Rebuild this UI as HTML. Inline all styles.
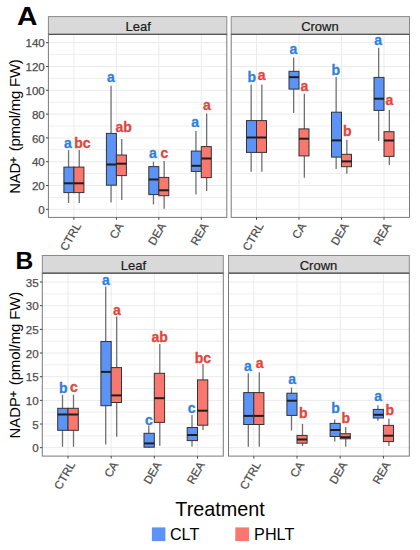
<!DOCTYPE html>
<html><head><meta charset="utf-8"><style>
html,body{margin:0;padding:0;background:#fff;}
svg{display:block;}
text{font-family:"Liberation Sans",sans-serif;}
.lab{font-size:14px;font-weight:bold;}
.strip{font-size:13px;fill:#1a1a1a;stroke:#1a1a1a;stroke-width:0.2px;}
.xt{font-size:11.5px;fill:#4d4d4d;stroke:#4d4d4d;stroke-width:0.25px;}
.yt{font-size:11.6px;fill:#4d4d4d;stroke:#4d4d4d;stroke-width:0.25px;}
.ttl{font-size:15px;fill:#000;}
.big{font-size:24px;font-weight:bold;fill:#000;}
</style></head><body>
<svg width="420" height="550" viewBox="0 0 420 550">
<rect width="420" height="550" fill="#fff"/>
<text class="big" transform="translate(17.0,24.8) scale(1.08,1)" style="font-size:26.2px">A</text>
<text class="big" x="15.4" y="269.4" style="font-size:24.6px">B</text>
<text class="ttl" transform="translate(20.2,193.8) rotate(-90)" textLength="31" lengthAdjust="spacingAndGlyphs">NAD</text>
<text class="ttl" style="font-size:11.4px;stroke:#000;stroke-width:0.35px" transform="translate(16.6,163.6) rotate(-90)">+</text>
<text class="ttl" transform="translate(20.2,151.3) rotate(-90)" textLength="92.1" lengthAdjust="spacing">(pmol/mg FW)</text>
<text class="ttl" transform="translate(20.2,438.4) rotate(-90)" textLength="41.2" lengthAdjust="spacingAndGlyphs">NADP</text>
<text class="ttl" style="font-size:11.4px;stroke:#000;stroke-width:0.35px" transform="translate(16.6,397.4) rotate(-90)">+</text>
<text class="ttl" transform="translate(20.2,385.2) rotate(-90)" textLength="93.5" lengthAdjust="spacing">(pmol/mg FW)</text>
<rect x="48.4" y="34.3" width="178.4" height="183.1" fill="#fff"/>
<line x1="48.4" x2="226.8" y1="197.4" y2="197.4" stroke="#eeeeee" stroke-width="1"/>
<line x1="48.4" x2="226.8" y1="173.6" y2="173.6" stroke="#eeeeee" stroke-width="1"/>
<line x1="48.4" x2="226.8" y1="149.8" y2="149.8" stroke="#eeeeee" stroke-width="1"/>
<line x1="48.4" x2="226.8" y1="126" y2="126" stroke="#eeeeee" stroke-width="1"/>
<line x1="48.4" x2="226.8" y1="102.2" y2="102.2" stroke="#eeeeee" stroke-width="1"/>
<line x1="48.4" x2="226.8" y1="78.4" y2="78.4" stroke="#eeeeee" stroke-width="1"/>
<line x1="48.4" x2="226.8" y1="54.6" y2="54.6" stroke="#eeeeee" stroke-width="1"/>
<line x1="48.4" x2="226.8" y1="209.3" y2="209.3" stroke="#ebebeb" stroke-width="1"/>
<line x1="48.4" x2="226.8" y1="185.5" y2="185.5" stroke="#ebebeb" stroke-width="1"/>
<line x1="48.4" x2="226.8" y1="161.7" y2="161.7" stroke="#ebebeb" stroke-width="1"/>
<line x1="48.4" x2="226.8" y1="137.9" y2="137.9" stroke="#ebebeb" stroke-width="1"/>
<line x1="48.4" x2="226.8" y1="114.1" y2="114.1" stroke="#ebebeb" stroke-width="1"/>
<line x1="48.4" x2="226.8" y1="90.3" y2="90.3" stroke="#ebebeb" stroke-width="1"/>
<line x1="48.4" x2="226.8" y1="66.5" y2="66.5" stroke="#ebebeb" stroke-width="1"/>
<line x1="48.4" x2="226.8" y1="42.7" y2="42.7" stroke="#ebebeb" stroke-width="1"/>
<line x1="73.9" x2="73.9" y1="34.3" y2="217.4" stroke="#ebebeb" stroke-width="1"/>
<line x1="116.4" x2="116.4" y1="34.3" y2="217.4" stroke="#ebebeb" stroke-width="1"/>
<line x1="158.8" x2="158.8" y1="34.3" y2="217.4" stroke="#ebebeb" stroke-width="1"/>
<line x1="201.3" x2="201.3" y1="34.3" y2="217.4" stroke="#ebebeb" stroke-width="1"/>
<line x1="68.55" x2="68.55" y1="150.1" y2="167.1" stroke="#707070" stroke-width="1.3"/>
<line x1="68.55" x2="68.55" y1="192.6" y2="203" stroke="#707070" stroke-width="1.3"/>
<rect x="63.9" y="167.1" width="10" height="25.5" fill="#5b93f6" stroke="#333333" stroke-width="1.0"/>
<line x1="63.9" x2="73.9" y1="183.3" y2="183.3" stroke="#1f1f1f" stroke-width="2"/>
<line x1="79.25" x2="79.25" y1="150.1" y2="167.1" stroke="#707070" stroke-width="1.3"/>
<line x1="79.25" x2="79.25" y1="192.6" y2="203" stroke="#707070" stroke-width="1.3"/>
<rect x="73.9" y="167.1" width="10" height="25.5" fill="#f8776e" stroke="#333333" stroke-width="1.0"/>
<line x1="73.9" x2="83.9" y1="183.3" y2="183.3" stroke="#1f1f1f" stroke-width="2"/>
<text x="64.1" y="147.5" class="lab" fill="#2f80dc" stroke="#2f80dc" stroke-width="0.3">a</text>
<text x="74.3" y="147.5" class="lab" fill="#e2453b" stroke="#e2453b" stroke-width="0.3">bc</text>
<line x1="111.05" x2="111.05" y1="85.7" y2="133.4" stroke="#707070" stroke-width="1.3"/>
<line x1="111.05" x2="111.05" y1="185.2" y2="202.6" stroke="#707070" stroke-width="1.3"/>
<rect x="106.4" y="133.4" width="10" height="51.8" fill="#5b93f6" stroke="#333333" stroke-width="1.0"/>
<line x1="106.4" x2="116.4" y1="164.5" y2="164.5" stroke="#1f1f1f" stroke-width="2"/>
<line x1="121.75" x2="121.75" y1="139" y2="155" stroke="#707070" stroke-width="1.3"/>
<line x1="121.75" x2="121.75" y1="175.6" y2="199.9" stroke="#707070" stroke-width="1.3"/>
<rect x="116.4" y="155" width="10" height="20.6" fill="#f8776e" stroke="#333333" stroke-width="1.0"/>
<line x1="116.4" x2="126.4" y1="163.7" y2="163.7" stroke="#1f1f1f" stroke-width="2"/>
<text x="106.9" y="81.9" class="lab" fill="#2f80dc" stroke="#2f80dc" stroke-width="0.3">a</text>
<text x="115.4" y="132.3" class="lab" fill="#e2453b" stroke="#e2453b" stroke-width="0.3">ab</text>
<line x1="153.45" x2="153.45" y1="161.7" y2="166.6" stroke="#707070" stroke-width="1.3"/>
<line x1="153.45" x2="153.45" y1="194.6" y2="204.5" stroke="#707070" stroke-width="1.3"/>
<rect x="148.8" y="166.6" width="10" height="28" fill="#5b93f6" stroke="#333333" stroke-width="1.0"/>
<line x1="148.8" x2="158.8" y1="179.5" y2="179.5" stroke="#1f1f1f" stroke-width="2"/>
<line x1="164.15" x2="164.15" y1="160.9" y2="177.4" stroke="#707070" stroke-width="1.3"/>
<line x1="164.15" x2="164.15" y1="195.7" y2="208.8" stroke="#707070" stroke-width="1.3"/>
<rect x="158.8" y="177.4" width="10" height="18.3" fill="#f8776e" stroke="#333333" stroke-width="1.0"/>
<line x1="158.8" x2="168.8" y1="190.3" y2="190.3" stroke="#1f1f1f" stroke-width="2"/>
<text x="149.1" y="158.3" class="lab" fill="#2f80dc" stroke="#2f80dc" stroke-width="0.3">a</text>
<text x="160.4" y="158.3" class="lab" fill="#e2453b" stroke="#e2453b" stroke-width="0.3">c</text>
<line x1="195.95" x2="195.95" y1="131" y2="151.1" stroke="#707070" stroke-width="1.3"/>
<line x1="195.95" x2="195.95" y1="171.4" y2="194.6" stroke="#707070" stroke-width="1.3"/>
<rect x="191.3" y="151.1" width="10" height="20.3" fill="#5b93f6" stroke="#333333" stroke-width="1.0"/>
<line x1="191.3" x2="201.3" y1="165.8" y2="165.8" stroke="#1f1f1f" stroke-width="2"/>
<line x1="206.65" x2="206.65" y1="113.5" y2="146.6" stroke="#707070" stroke-width="1.3"/>
<line x1="206.65" x2="206.65" y1="177.6" y2="191" stroke="#707070" stroke-width="1.3"/>
<rect x="201.3" y="146.6" width="10" height="31" fill="#f8776e" stroke="#333333" stroke-width="1.0"/>
<line x1="201.3" x2="211.3" y1="158.5" y2="158.5" stroke="#1f1f1f" stroke-width="2"/>
<text x="191.3" y="126.9" class="lab" fill="#2f80dc" stroke="#2f80dc" stroke-width="0.3">a</text>
<text x="202.9" y="110" class="lab" fill="#e2453b" stroke="#e2453b" stroke-width="0.3">a</text>
<rect x="48.4" y="34.3" width="178.4" height="183.1" fill="none" stroke="#7a7a7a" stroke-width="1"/>
<rect x="48.4" y="16.6" width="178.4" height="17.7" fill="#d9d9d9" stroke="#8a8a8a" stroke-width="1"/>
<line x1="48.4" x2="226.8" y1="34.3" y2="34.3" stroke="#555" stroke-width="1.2"/>
<text x="138.2" y="30.7" class="strip" text-anchor="middle">Leaf</text>
<line x1="73.9" x2="73.9" y1="217.4" y2="219.8" stroke="#444" stroke-width="1"/>
<text class="xt" text-anchor="end" transform="translate(81.4,225.8) rotate(-60)">CTRL</text>
<line x1="116.4" x2="116.4" y1="217.4" y2="219.8" stroke="#444" stroke-width="1"/>
<text class="xt" text-anchor="end" transform="translate(123.9,225.8) rotate(-60)">CA</text>
<line x1="158.8" x2="158.8" y1="217.4" y2="219.8" stroke="#444" stroke-width="1"/>
<text class="xt" text-anchor="end" transform="translate(166.3,225.8) rotate(-60)">DEA</text>
<line x1="201.3" x2="201.3" y1="217.4" y2="219.8" stroke="#444" stroke-width="1"/>
<text class="xt" text-anchor="end" transform="translate(208.8,225.8) rotate(-60)">REA</text>
<line x1="46" x2="48.4" y1="209.3" y2="209.3" stroke="#444" stroke-width="1"/>
<text class="yt" x="44.8" y="213.9" text-anchor="end">0</text>
<line x1="46" x2="48.4" y1="185.5" y2="185.5" stroke="#444" stroke-width="1"/>
<text class="yt" x="44.8" y="190.1" text-anchor="end">20</text>
<line x1="46" x2="48.4" y1="161.7" y2="161.7" stroke="#444" stroke-width="1"/>
<text class="yt" x="44.8" y="166.3" text-anchor="end">40</text>
<line x1="46" x2="48.4" y1="137.9" y2="137.9" stroke="#444" stroke-width="1"/>
<text class="yt" x="44.8" y="142.5" text-anchor="end">60</text>
<line x1="46" x2="48.4" y1="114.1" y2="114.1" stroke="#444" stroke-width="1"/>
<text class="yt" x="44.8" y="118.7" text-anchor="end">80</text>
<line x1="46" x2="48.4" y1="90.3" y2="90.3" stroke="#444" stroke-width="1"/>
<text class="yt" x="44.8" y="94.9" text-anchor="end">100</text>
<line x1="46" x2="48.4" y1="66.5" y2="66.5" stroke="#444" stroke-width="1"/>
<text class="yt" x="44.8" y="71.1" text-anchor="end">120</text>
<line x1="46" x2="48.4" y1="42.7" y2="42.7" stroke="#444" stroke-width="1"/>
<text class="yt" x="44.8" y="47.3" text-anchor="end">140</text>
<rect x="231.2" y="34.3" width="178.3" height="183.1" fill="#fff"/>
<line x1="231.2" x2="409.5" y1="197.4" y2="197.4" stroke="#eeeeee" stroke-width="1"/>
<line x1="231.2" x2="409.5" y1="173.6" y2="173.6" stroke="#eeeeee" stroke-width="1"/>
<line x1="231.2" x2="409.5" y1="149.8" y2="149.8" stroke="#eeeeee" stroke-width="1"/>
<line x1="231.2" x2="409.5" y1="126" y2="126" stroke="#eeeeee" stroke-width="1"/>
<line x1="231.2" x2="409.5" y1="102.2" y2="102.2" stroke="#eeeeee" stroke-width="1"/>
<line x1="231.2" x2="409.5" y1="78.4" y2="78.4" stroke="#eeeeee" stroke-width="1"/>
<line x1="231.2" x2="409.5" y1="54.6" y2="54.6" stroke="#eeeeee" stroke-width="1"/>
<line x1="231.2" x2="409.5" y1="209.3" y2="209.3" stroke="#ebebeb" stroke-width="1"/>
<line x1="231.2" x2="409.5" y1="185.5" y2="185.5" stroke="#ebebeb" stroke-width="1"/>
<line x1="231.2" x2="409.5" y1="161.7" y2="161.7" stroke="#ebebeb" stroke-width="1"/>
<line x1="231.2" x2="409.5" y1="137.9" y2="137.9" stroke="#ebebeb" stroke-width="1"/>
<line x1="231.2" x2="409.5" y1="114.1" y2="114.1" stroke="#ebebeb" stroke-width="1"/>
<line x1="231.2" x2="409.5" y1="90.3" y2="90.3" stroke="#ebebeb" stroke-width="1"/>
<line x1="231.2" x2="409.5" y1="66.5" y2="66.5" stroke="#ebebeb" stroke-width="1"/>
<line x1="231.2" x2="409.5" y1="42.7" y2="42.7" stroke="#ebebeb" stroke-width="1"/>
<line x1="256.5" x2="256.5" y1="34.3" y2="217.4" stroke="#ebebeb" stroke-width="1"/>
<line x1="299" x2="299" y1="34.3" y2="217.4" stroke="#ebebeb" stroke-width="1"/>
<line x1="341.5" x2="341.5" y1="34.3" y2="217.4" stroke="#ebebeb" stroke-width="1"/>
<line x1="384" x2="384" y1="34.3" y2="217.4" stroke="#ebebeb" stroke-width="1"/>
<line x1="251.15" x2="251.15" y1="84.4" y2="120.6" stroke="#707070" stroke-width="1.3"/>
<line x1="251.15" x2="251.15" y1="152.4" y2="171.7" stroke="#707070" stroke-width="1.3"/>
<rect x="246.5" y="120.6" width="10" height="31.8" fill="#5b93f6" stroke="#333333" stroke-width="1.0"/>
<line x1="246.5" x2="256.5" y1="137.5" y2="137.5" stroke="#1f1f1f" stroke-width="2"/>
<line x1="261.85" x2="261.85" y1="84.4" y2="120.6" stroke="#707070" stroke-width="1.3"/>
<line x1="261.85" x2="261.85" y1="152.4" y2="171.7" stroke="#707070" stroke-width="1.3"/>
<rect x="256.5" y="120.6" width="10" height="31.8" fill="#f8776e" stroke="#333333" stroke-width="1.0"/>
<line x1="256.5" x2="266.5" y1="137.5" y2="137.5" stroke="#1f1f1f" stroke-width="2"/>
<text x="247.6" y="82.3" class="lab" fill="#2f80dc" stroke="#2f80dc" stroke-width="0.3">b</text>
<text x="257.8" y="80.1" class="lab" fill="#e2453b" stroke="#e2453b" stroke-width="0.3">a</text>
<line x1="293.65" x2="293.65" y1="57.4" y2="71.3" stroke="#707070" stroke-width="1.3"/>
<line x1="293.65" x2="293.65" y1="89.1" y2="113" stroke="#707070" stroke-width="1.3"/>
<rect x="289" y="71.3" width="10" height="17.8" fill="#5b93f6" stroke="#333333" stroke-width="1.0"/>
<line x1="289" x2="299" y1="77.2" y2="77.2" stroke="#1f1f1f" stroke-width="2"/>
<line x1="304.35" x2="304.35" y1="93.7" y2="128.9" stroke="#707070" stroke-width="1.3"/>
<line x1="304.35" x2="304.35" y1="155.9" y2="177.7" stroke="#707070" stroke-width="1.3"/>
<rect x="299" y="128.9" width="10" height="27" fill="#f8776e" stroke="#333333" stroke-width="1.0"/>
<line x1="299" x2="309" y1="138.7" y2="138.7" stroke="#1f1f1f" stroke-width="2"/>
<text x="289.6" y="54.1" class="lab" fill="#2f80dc" stroke="#2f80dc" stroke-width="0.3">a</text>
<text x="300.6" y="91.1" class="lab" fill="#e2453b" stroke="#e2453b" stroke-width="0.3">a</text>
<line x1="336.15" x2="336.15" y1="77.1" y2="112.2" stroke="#707070" stroke-width="1.3"/>
<line x1="336.15" x2="336.15" y1="157.1" y2="169.1" stroke="#707070" stroke-width="1.3"/>
<rect x="331.5" y="112.2" width="10" height="44.9" fill="#5b93f6" stroke="#333333" stroke-width="1.0"/>
<line x1="331.5" x2="341.5" y1="140.4" y2="140.4" stroke="#1f1f1f" stroke-width="2"/>
<line x1="346.85" x2="346.85" y1="139.8" y2="154.3" stroke="#707070" stroke-width="1.3"/>
<line x1="346.85" x2="346.85" y1="166.7" y2="173.8" stroke="#707070" stroke-width="1.3"/>
<rect x="341.5" y="154.3" width="10" height="12.4" fill="#f8776e" stroke="#333333" stroke-width="1.0"/>
<line x1="341.5" x2="351.5" y1="161.4" y2="161.4" stroke="#1f1f1f" stroke-width="2"/>
<text x="331.6" y="75.2" class="lab" fill="#2f80dc" stroke="#2f80dc" stroke-width="0.3">b</text>
<text x="342.9" y="135.6" class="lab" fill="#e2453b" stroke="#e2453b" stroke-width="0.3">b</text>
<line x1="378.65" x2="378.65" y1="47.8" y2="77.4" stroke="#707070" stroke-width="1.3"/>
<line x1="378.65" x2="378.65" y1="110.4" y2="141" stroke="#707070" stroke-width="1.3"/>
<rect x="374" y="77.4" width="10" height="33" fill="#5b93f6" stroke="#333333" stroke-width="1.0"/>
<line x1="374" x2="384" y1="98.7" y2="98.7" stroke="#1f1f1f" stroke-width="2"/>
<line x1="389.35" x2="389.35" y1="110" y2="131.7" stroke="#707070" stroke-width="1.3"/>
<line x1="389.35" x2="389.35" y1="156.4" y2="164.9" stroke="#707070" stroke-width="1.3"/>
<rect x="384" y="131.7" width="10" height="24.7" fill="#f8776e" stroke="#333333" stroke-width="1.0"/>
<line x1="384" x2="394" y1="140.5" y2="140.5" stroke="#1f1f1f" stroke-width="2"/>
<text x="374.3" y="45.1" class="lab" fill="#2f80dc" stroke="#2f80dc" stroke-width="0.3">a</text>
<text x="385.6" y="105.1" class="lab" fill="#e2453b" stroke="#e2453b" stroke-width="0.3">a</text>
<rect x="231.2" y="34.3" width="178.3" height="183.1" fill="none" stroke="#7a7a7a" stroke-width="1"/>
<rect x="231.2" y="16.6" width="178.3" height="17.7" fill="#d9d9d9" stroke="#8a8a8a" stroke-width="1"/>
<line x1="231.2" x2="409.5" y1="34.3" y2="34.3" stroke="#555" stroke-width="1.2"/>
<text x="319.95" y="30.7" class="strip" text-anchor="middle">Crown</text>
<line x1="256.5" x2="256.5" y1="217.4" y2="219.8" stroke="#444" stroke-width="1"/>
<text class="xt" text-anchor="end" transform="translate(264,225.8) rotate(-60)">CTRL</text>
<line x1="299" x2="299" y1="217.4" y2="219.8" stroke="#444" stroke-width="1"/>
<text class="xt" text-anchor="end" transform="translate(306.5,225.8) rotate(-60)">CA</text>
<line x1="341.5" x2="341.5" y1="217.4" y2="219.8" stroke="#444" stroke-width="1"/>
<text class="xt" text-anchor="end" transform="translate(349,225.8) rotate(-60)">DEA</text>
<line x1="384" x2="384" y1="217.4" y2="219.8" stroke="#444" stroke-width="1"/>
<text class="xt" text-anchor="end" transform="translate(391.5,225.8) rotate(-60)">REA</text>
<rect x="42.3" y="273.2" width="181" height="182.9" fill="#fff"/>
<line x1="42.3" x2="223.3" y1="435.87" y2="435.87" stroke="#eeeeee" stroke-width="1"/>
<line x1="42.3" x2="223.3" y1="412.19" y2="412.19" stroke="#eeeeee" stroke-width="1"/>
<line x1="42.3" x2="223.3" y1="388.52" y2="388.52" stroke="#eeeeee" stroke-width="1"/>
<line x1="42.3" x2="223.3" y1="364.86" y2="364.86" stroke="#eeeeee" stroke-width="1"/>
<line x1="42.3" x2="223.3" y1="341.19" y2="341.19" stroke="#eeeeee" stroke-width="1"/>
<line x1="42.3" x2="223.3" y1="317.51" y2="317.51" stroke="#eeeeee" stroke-width="1"/>
<line x1="42.3" x2="223.3" y1="293.85" y2="293.85" stroke="#eeeeee" stroke-width="1"/>
<line x1="42.3" x2="223.3" y1="447.7" y2="447.7" stroke="#ebebeb" stroke-width="1"/>
<line x1="42.3" x2="223.3" y1="424.03" y2="424.03" stroke="#ebebeb" stroke-width="1"/>
<line x1="42.3" x2="223.3" y1="400.36" y2="400.36" stroke="#ebebeb" stroke-width="1"/>
<line x1="42.3" x2="223.3" y1="376.69" y2="376.69" stroke="#ebebeb" stroke-width="1"/>
<line x1="42.3" x2="223.3" y1="353.02" y2="353.02" stroke="#ebebeb" stroke-width="1"/>
<line x1="42.3" x2="223.3" y1="329.35" y2="329.35" stroke="#ebebeb" stroke-width="1"/>
<line x1="42.3" x2="223.3" y1="305.68" y2="305.68" stroke="#ebebeb" stroke-width="1"/>
<line x1="42.3" x2="223.3" y1="282.01" y2="282.01" stroke="#ebebeb" stroke-width="1"/>
<line x1="68" x2="68" y1="273.2" y2="456.1" stroke="#ebebeb" stroke-width="1"/>
<line x1="111.2" x2="111.2" y1="273.2" y2="456.1" stroke="#ebebeb" stroke-width="1"/>
<line x1="154.3" x2="154.3" y1="273.2" y2="456.1" stroke="#ebebeb" stroke-width="1"/>
<line x1="197.5" x2="197.5" y1="273.2" y2="456.1" stroke="#ebebeb" stroke-width="1"/>
<line x1="62.5" x2="62.5" y1="394.7" y2="408.3" stroke="#707070" stroke-width="1.3"/>
<line x1="62.5" x2="62.5" y1="430.3" y2="446.8" stroke="#707070" stroke-width="1.3"/>
<rect x="57.7" y="408.3" width="10.3" height="22" fill="#5b93f6" stroke="#333333" stroke-width="1.0"/>
<line x1="57.7" x2="68" y1="414.5" y2="414.5" stroke="#1f1f1f" stroke-width="2"/>
<line x1="73.5" x2="73.5" y1="394.7" y2="408.3" stroke="#707070" stroke-width="1.3"/>
<line x1="73.5" x2="73.5" y1="430.3" y2="446.8" stroke="#707070" stroke-width="1.3"/>
<rect x="68" y="408.3" width="10.3" height="22" fill="#f8776e" stroke="#333333" stroke-width="1.0"/>
<line x1="68" x2="78.3" y1="414.5" y2="414.5" stroke="#1f1f1f" stroke-width="2"/>
<text x="59.1" y="393.3" class="lab" fill="#2f80dc" stroke="#2f80dc" stroke-width="0.3">b</text>
<text x="70" y="392.4" class="lab" fill="#e2453b" stroke="#e2453b" stroke-width="0.3">c</text>
<line x1="105.7" x2="105.7" y1="286.6" y2="341.5" stroke="#707070" stroke-width="1.3"/>
<line x1="105.7" x2="105.7" y1="405.7" y2="444.5" stroke="#707070" stroke-width="1.3"/>
<rect x="100.9" y="341.5" width="10.3" height="64.2" fill="#5b93f6" stroke="#333333" stroke-width="1.0"/>
<line x1="100.9" x2="111.2" y1="371.9" y2="371.9" stroke="#1f1f1f" stroke-width="2"/>
<line x1="116.7" x2="116.7" y1="316.4" y2="367.6" stroke="#707070" stroke-width="1.3"/>
<line x1="116.7" x2="116.7" y1="402.5" y2="436.8" stroke="#707070" stroke-width="1.3"/>
<rect x="111.2" y="367.6" width="10.3" height="34.9" fill="#f8776e" stroke="#333333" stroke-width="1.0"/>
<line x1="111.2" x2="121.5" y1="395.4" y2="395.4" stroke="#1f1f1f" stroke-width="2"/>
<text x="102.1" y="285.1" class="lab" fill="#2f80dc" stroke="#2f80dc" stroke-width="0.3">a</text>
<text x="112.9" y="314.5" class="lab" fill="#e2453b" stroke="#e2453b" stroke-width="0.3">a</text>
<line x1="148.8" x2="148.8" y1="425.6" y2="433.3" stroke="#707070" stroke-width="1.3"/>
<line x1="148.8" x2="148.8" y1="447.2" y2="448" stroke="#707070" stroke-width="1.3"/>
<rect x="144" y="433.3" width="10.3" height="13.9" fill="#5b93f6" stroke="#333333" stroke-width="1.0"/>
<line x1="144" x2="154.3" y1="443.4" y2="443.4" stroke="#1f1f1f" stroke-width="2"/>
<line x1="159.8" x2="159.8" y1="344" y2="373.3" stroke="#707070" stroke-width="1.3"/>
<line x1="159.8" x2="159.8" y1="422.4" y2="445.7" stroke="#707070" stroke-width="1.3"/>
<rect x="154.3" y="373.3" width="10.3" height="49.1" fill="#f8776e" stroke="#333333" stroke-width="1.0"/>
<line x1="154.3" x2="164.6" y1="398.2" y2="398.2" stroke="#1f1f1f" stroke-width="2"/>
<text x="144.9" y="424.5" class="lab" fill="#2f80dc" stroke="#2f80dc" stroke-width="0.3">c</text>
<text x="151.4" y="342" class="lab" fill="#e2453b" stroke="#e2453b" stroke-width="0.3">ab</text>
<line x1="192" x2="192" y1="415.1" y2="427.5" stroke="#707070" stroke-width="1.3"/>
<line x1="192" x2="192" y1="440.6" y2="446.5" stroke="#707070" stroke-width="1.3"/>
<rect x="187.2" y="427.5" width="10.3" height="13.1" fill="#5b93f6" stroke="#333333" stroke-width="1.0"/>
<line x1="187.2" x2="197.5" y1="435" y2="435" stroke="#1f1f1f" stroke-width="2"/>
<line x1="203" x2="203" y1="364" y2="379.9" stroke="#707070" stroke-width="1.3"/>
<line x1="203" x2="203" y1="425.2" y2="429.9" stroke="#707070" stroke-width="1.3"/>
<rect x="197.5" y="379.9" width="10.3" height="45.3" fill="#f8776e" stroke="#333333" stroke-width="1.0"/>
<line x1="197.5" x2="207.8" y1="410.7" y2="410.7" stroke="#1f1f1f" stroke-width="2"/>
<text x="187.7" y="412.9" class="lab" fill="#2f80dc" stroke="#2f80dc" stroke-width="0.3">c</text>
<text x="194.7" y="362.6" class="lab" fill="#e2453b" stroke="#e2453b" stroke-width="0.3">bc</text>
<rect x="42.3" y="273.2" width="181" height="182.9" fill="none" stroke="#7a7a7a" stroke-width="1"/>
<rect x="42.3" y="255.5" width="181" height="17.7" fill="#d9d9d9" stroke="#8a8a8a" stroke-width="1"/>
<line x1="42.3" x2="223.3" y1="273.2" y2="273.2" stroke="#555" stroke-width="1.2"/>
<text x="133.4" y="269.6" class="strip" text-anchor="middle">Leaf</text>
<line x1="68" x2="68" y1="456.1" y2="458.5" stroke="#444" stroke-width="1"/>
<text class="xt" text-anchor="end" transform="translate(75.5,464.5) rotate(-60)">CTRL</text>
<line x1="111.2" x2="111.2" y1="456.1" y2="458.5" stroke="#444" stroke-width="1"/>
<text class="xt" text-anchor="end" transform="translate(118.7,464.5) rotate(-60)">CA</text>
<line x1="154.3" x2="154.3" y1="456.1" y2="458.5" stroke="#444" stroke-width="1"/>
<text class="xt" text-anchor="end" transform="translate(161.8,464.5) rotate(-60)">DEA</text>
<line x1="197.5" x2="197.5" y1="456.1" y2="458.5" stroke="#444" stroke-width="1"/>
<text class="xt" text-anchor="end" transform="translate(205,464.5) rotate(-60)">REA</text>
<line x1="39.9" x2="42.3" y1="447.7" y2="447.7" stroke="#444" stroke-width="1"/>
<text class="yt" x="38.7" y="452.3" text-anchor="end">0</text>
<line x1="39.9" x2="42.3" y1="424.03" y2="424.03" stroke="#444" stroke-width="1"/>
<text class="yt" x="38.7" y="428.63" text-anchor="end">5</text>
<line x1="39.9" x2="42.3" y1="400.36" y2="400.36" stroke="#444" stroke-width="1"/>
<text class="yt" x="38.7" y="404.96" text-anchor="end">10</text>
<line x1="39.9" x2="42.3" y1="376.69" y2="376.69" stroke="#444" stroke-width="1"/>
<text class="yt" x="38.7" y="381.29" text-anchor="end">15</text>
<line x1="39.9" x2="42.3" y1="353.02" y2="353.02" stroke="#444" stroke-width="1"/>
<text class="yt" x="38.7" y="357.62" text-anchor="end">20</text>
<line x1="39.9" x2="42.3" y1="329.35" y2="329.35" stroke="#444" stroke-width="1"/>
<text class="yt" x="38.7" y="333.95" text-anchor="end">25</text>
<line x1="39.9" x2="42.3" y1="305.68" y2="305.68" stroke="#444" stroke-width="1"/>
<text class="yt" x="38.7" y="310.28" text-anchor="end">30</text>
<line x1="39.9" x2="42.3" y1="282.01" y2="282.01" stroke="#444" stroke-width="1"/>
<text class="yt" x="38.7" y="286.61" text-anchor="end">35</text>
<rect x="228.5" y="273.2" width="180.8" height="182.9" fill="#fff"/>
<line x1="228.5" x2="409.3" y1="435.87" y2="435.87" stroke="#eeeeee" stroke-width="1"/>
<line x1="228.5" x2="409.3" y1="412.19" y2="412.19" stroke="#eeeeee" stroke-width="1"/>
<line x1="228.5" x2="409.3" y1="388.52" y2="388.52" stroke="#eeeeee" stroke-width="1"/>
<line x1="228.5" x2="409.3" y1="364.86" y2="364.86" stroke="#eeeeee" stroke-width="1"/>
<line x1="228.5" x2="409.3" y1="341.19" y2="341.19" stroke="#eeeeee" stroke-width="1"/>
<line x1="228.5" x2="409.3" y1="317.51" y2="317.51" stroke="#eeeeee" stroke-width="1"/>
<line x1="228.5" x2="409.3" y1="293.85" y2="293.85" stroke="#eeeeee" stroke-width="1"/>
<line x1="228.5" x2="409.3" y1="447.7" y2="447.7" stroke="#ebebeb" stroke-width="1"/>
<line x1="228.5" x2="409.3" y1="424.03" y2="424.03" stroke="#ebebeb" stroke-width="1"/>
<line x1="228.5" x2="409.3" y1="400.36" y2="400.36" stroke="#ebebeb" stroke-width="1"/>
<line x1="228.5" x2="409.3" y1="376.69" y2="376.69" stroke="#ebebeb" stroke-width="1"/>
<line x1="228.5" x2="409.3" y1="353.02" y2="353.02" stroke="#ebebeb" stroke-width="1"/>
<line x1="228.5" x2="409.3" y1="329.35" y2="329.35" stroke="#ebebeb" stroke-width="1"/>
<line x1="228.5" x2="409.3" y1="305.68" y2="305.68" stroke="#ebebeb" stroke-width="1"/>
<line x1="228.5" x2="409.3" y1="282.01" y2="282.01" stroke="#ebebeb" stroke-width="1"/>
<line x1="253.8" x2="253.8" y1="273.2" y2="456.1" stroke="#ebebeb" stroke-width="1"/>
<line x1="297" x2="297" y1="273.2" y2="456.1" stroke="#ebebeb" stroke-width="1"/>
<line x1="340.2" x2="340.2" y1="273.2" y2="456.1" stroke="#ebebeb" stroke-width="1"/>
<line x1="383.4" x2="383.4" y1="273.2" y2="456.1" stroke="#ebebeb" stroke-width="1"/>
<line x1="248.3" x2="248.3" y1="373.2" y2="392.6" stroke="#707070" stroke-width="1.3"/>
<line x1="248.3" x2="248.3" y1="424.5" y2="446.8" stroke="#707070" stroke-width="1.3"/>
<rect x="243.7" y="392.6" width="10.1" height="31.9" fill="#5b93f6" stroke="#333333" stroke-width="1.0"/>
<line x1="243.7" x2="253.8" y1="415.9" y2="415.9" stroke="#1f1f1f" stroke-width="2"/>
<line x1="259.3" x2="259.3" y1="372.3" y2="392.6" stroke="#707070" stroke-width="1.3"/>
<line x1="259.3" x2="259.3" y1="424.5" y2="446.8" stroke="#707070" stroke-width="1.3"/>
<rect x="253.8" y="392.6" width="10.1" height="31.9" fill="#f8776e" stroke="#333333" stroke-width="1.0"/>
<line x1="253.8" x2="263.9" y1="415.9" y2="415.9" stroke="#1f1f1f" stroke-width="2"/>
<text x="243.9" y="370.7" class="lab" fill="#2f80dc" stroke="#2f80dc" stroke-width="0.3">a</text>
<text x="255.7" y="368.2" class="lab" fill="#e2453b" stroke="#e2453b" stroke-width="0.3">a</text>
<line x1="291.5" x2="291.5" y1="387.6" y2="393.2" stroke="#707070" stroke-width="1.3"/>
<line x1="291.5" x2="291.5" y1="415.4" y2="430.5" stroke="#707070" stroke-width="1.3"/>
<rect x="286.9" y="393.2" width="10.1" height="22.2" fill="#5b93f6" stroke="#333333" stroke-width="1.0"/>
<line x1="286.9" x2="297" y1="400.7" y2="400.7" stroke="#1f1f1f" stroke-width="2"/>
<line x1="302.5" x2="302.5" y1="423.9" y2="435.4" stroke="#707070" stroke-width="1.3"/>
<line x1="302.5" x2="302.5" y1="443.2" y2="446" stroke="#707070" stroke-width="1.3"/>
<rect x="297" y="435.4" width="10.1" height="7.8" fill="#f8776e" stroke="#333333" stroke-width="1.0"/>
<line x1="297" x2="307.1" y1="439.5" y2="439.5" stroke="#1f1f1f" stroke-width="2"/>
<text x="288.3" y="383.5" class="lab" fill="#2f80dc" stroke="#2f80dc" stroke-width="0.3">a</text>
<text x="299" y="418.2" class="lab" fill="#e2453b" stroke="#e2453b" stroke-width="0.3">b</text>
<line x1="334.7" x2="334.7" y1="419.6" y2="423.4" stroke="#707070" stroke-width="1.3"/>
<line x1="334.7" x2="334.7" y1="436.5" y2="441.6" stroke="#707070" stroke-width="1.3"/>
<rect x="330.1" y="423.4" width="10.1" height="13.1" fill="#5b93f6" stroke="#333333" stroke-width="1.0"/>
<line x1="330.1" x2="340.2" y1="430" y2="430" stroke="#1f1f1f" stroke-width="2"/>
<line x1="345.7" x2="345.7" y1="426.9" y2="433.7" stroke="#707070" stroke-width="1.3"/>
<line x1="345.7" x2="345.7" y1="438.8" y2="446.7" stroke="#707070" stroke-width="1.3"/>
<rect x="340.2" y="433.7" width="10.1" height="5.1" fill="#f8776e" stroke="#333333" stroke-width="1.0"/>
<line x1="340.2" x2="350.3" y1="437.2" y2="437.2" stroke="#1f1f1f" stroke-width="2"/>
<text x="331.2" y="413.3" class="lab" fill="#2f80dc" stroke="#2f80dc" stroke-width="0.3">b</text>
<text x="341.4" y="422.7" class="lab" fill="#e2453b" stroke="#e2453b" stroke-width="0.3">b</text>
<line x1="377.9" x2="377.9" y1="405.3" y2="409.4" stroke="#707070" stroke-width="1.3"/>
<line x1="377.9" x2="377.9" y1="418" y2="420.8" stroke="#707070" stroke-width="1.3"/>
<rect x="373.3" y="409.4" width="10.1" height="8.6" fill="#5b93f6" stroke="#333333" stroke-width="1.0"/>
<line x1="373.3" x2="383.4" y1="414.8" y2="414.8" stroke="#1f1f1f" stroke-width="2"/>
<line x1="388.9" x2="388.9" y1="418.7" y2="425.4" stroke="#707070" stroke-width="1.3"/>
<line x1="388.9" x2="388.9" y1="441.6" y2="446" stroke="#707070" stroke-width="1.3"/>
<rect x="383.4" y="425.4" width="10.1" height="16.2" fill="#f8776e" stroke="#333333" stroke-width="1.0"/>
<line x1="383.4" x2="393.5" y1="435.7" y2="435.7" stroke="#1f1f1f" stroke-width="2"/>
<text x="374.2" y="400.7" class="lab" fill="#2f80dc" stroke="#2f80dc" stroke-width="0.3">a</text>
<text x="385.4" y="414.7" class="lab" fill="#e2453b" stroke="#e2453b" stroke-width="0.3">b</text>
<rect x="228.5" y="273.2" width="180.8" height="182.9" fill="none" stroke="#7a7a7a" stroke-width="1"/>
<rect x="228.5" y="255.5" width="180.8" height="17.7" fill="#d9d9d9" stroke="#8a8a8a" stroke-width="1"/>
<line x1="228.5" x2="409.3" y1="273.2" y2="273.2" stroke="#555" stroke-width="1.2"/>
<text x="318.5" y="269.6" class="strip" text-anchor="middle">Crown</text>
<line x1="253.8" x2="253.8" y1="456.1" y2="458.5" stroke="#444" stroke-width="1"/>
<text class="xt" text-anchor="end" transform="translate(261.3,464.5) rotate(-60)">CTRL</text>
<line x1="297" x2="297" y1="456.1" y2="458.5" stroke="#444" stroke-width="1"/>
<text class="xt" text-anchor="end" transform="translate(304.5,464.5) rotate(-60)">CA</text>
<line x1="340.2" x2="340.2" y1="456.1" y2="458.5" stroke="#444" stroke-width="1"/>
<text class="xt" text-anchor="end" transform="translate(347.7,464.5) rotate(-60)">DEA</text>
<line x1="383.4" x2="383.4" y1="456.1" y2="458.5" stroke="#444" stroke-width="1"/>
<text class="xt" text-anchor="end" transform="translate(390.9,464.5) rotate(-60)">REA</text>
<text x="220" y="516.2" text-anchor="middle" style="font-size:19.8px;fill:#000">Treatment</text>
<rect x="151.9" y="527.4" width="13.5" height="13.7" fill="#5b93f6"/>
<text x="169.9" y="540.4" style="font-size:16.2px;fill:#000">CLT</text>
<rect x="235.3" y="527.4" width="13.7" height="13.7" fill="#f8776e"/>
<text x="254.1" y="540.4" style="font-size:16.2px;fill:#000">PHLT</text>
</svg>
</body></html>
